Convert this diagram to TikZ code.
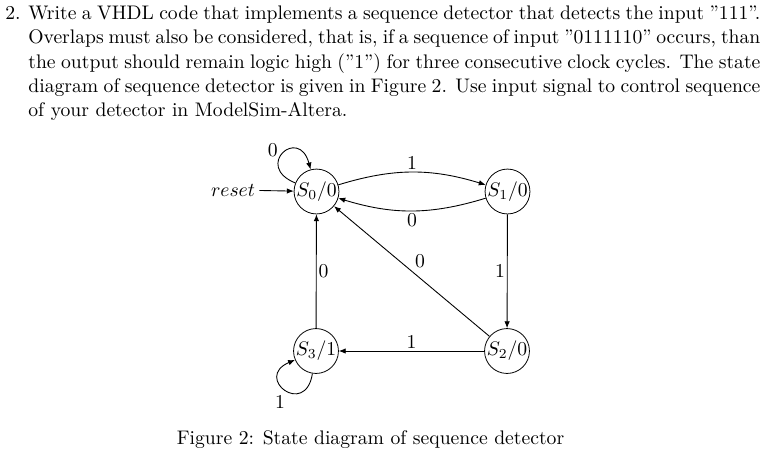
\documentclass[tikz,border=0pt]{standalone}
\usetikzlibrary{arrows.meta}
\begin{document}
\begin{tikzpicture}[x=0.509pt,y=-0.509pt,
  state/.style={draw,circle,minimum size=21.9pt,inner sep=0pt},
  arr/.style={-{Latex[length=3.5pt,width=2.8pt]},line width=0.45pt},
  lbl/.style={inner sep=1pt}]
\useasboundingbox (0,0) rectangle (765,453);
% question text
\node[anchor=base west,inner sep=0pt] (num) at (5,19.5) {2.};
\node[anchor=base west,inner sep=0pt,text width=372.6pt,align=justify] (para) at (28,19.5)
{\fontsize{10}{12.4}\selectfont\hyphenpenalty=10000
Write a VHDL code that implements a sequence detector that detects the input ”111”.\linebreak
Overlaps must also be considered, that is, if a sequence of input ”0111110” occurs, than\linebreak
the output should remain logic high (”1”) for three consecutive clock cycles. The state\linebreak
diagram of sequence detector is given in Figure 2. Use input signal to control sequence\linebreak
of your detector in ModelSim-Altera.\par};
% states
\node[state] (s0) at (316.5,191.5) {$S_0/0$};
\node[state] (s1) at (507.5,191.5) {$S_1/0$};
\node[state] (s3) at (316,351) {$S_3/1$};
\node[state] (s2) at (507,351) {$S_2/0$};
\node[inner sep=2pt] (reset) at (233,190) {$reset$};
% edges
\draw[arr] (reset) -- (s0);
\draw[arr] (s0) to[bend left=17] node[midway,above,lbl] (l01) {1} (s1);
\draw[arr] (s1) to[bend left=17] node[midway,below,lbl] (l10) {0} (s0);
\draw[arr] (s1) -- node[midway,left,lbl] (l12) {1} (s2);
\draw[arr] (s2) -- node[midway,above,lbl] (l23) {1} (s3);
\draw[arr] (s3) -- node[midway,right,lbl] (l30) {0} (s0);
\draw[arr] (s2) -- node[midway,anchor=south west,inner sep=1.5pt] (l20) {0} (s0);
\draw[arr] (s0.158) .. controls +(158:23pt) and +(105:23pt) .. node[pos=0.4,above left,inner sep=0.5pt] (l00) {0} (s0.105);
\draw[arr] (s3.261) .. controls +(261:23pt) and +(203:23pt) .. node[pos=0.45,below left,inner sep=1.5pt] (l33) {1} (s3.203);
% caption
\node[anchor=base,inner sep=0pt] (cap) at (370.5,444) {Figure 2: State diagram of sequence detector};
\end{tikzpicture}
\end{document}
